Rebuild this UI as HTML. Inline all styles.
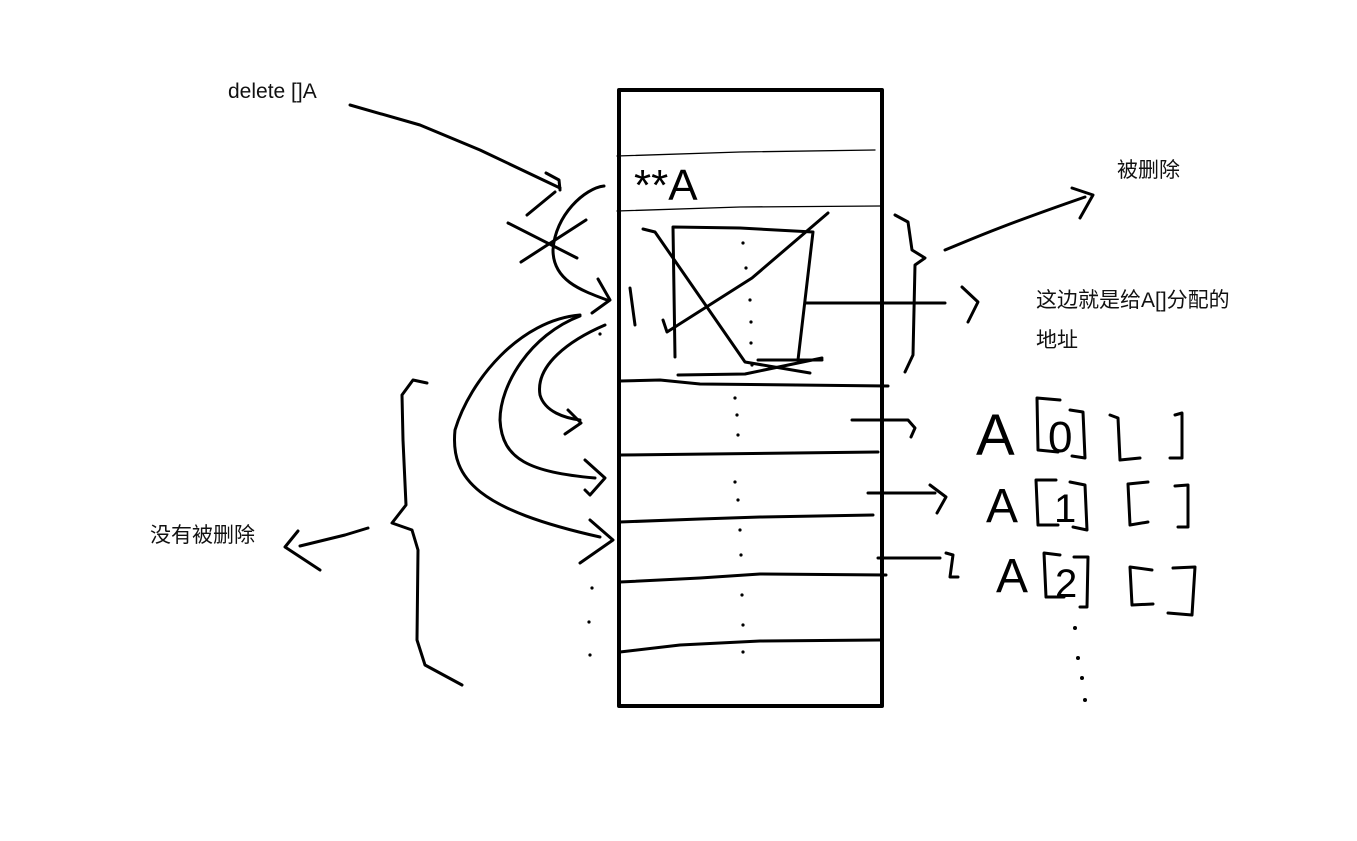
<!DOCTYPE html>
<html><head><meta charset="utf-8"><style>
html,body{margin:0;padding:0;background:#fff;}
svg{display:block;}
.t{font-family:"Liberation Sans","Noto Sans CJK SC",sans-serif;font-size:21px;fill:#111;}
.h{font-family:"Liberation Sans",sans-serif;fill:#000;}
</style></head><body>
<svg width="1357" height="841" viewBox="0 0 1357 841" xmlns="http://www.w3.org/2000/svg">
<g fill="none" stroke="#000" stroke-linecap="round" stroke-linejoin="round">
<path d="M619 90 L882 90 L882 706 L619 706 Z" stroke-width="4"/>
<path d="M617 156 L740 152 L875 150" stroke-width="1.3"/>
<path d="M617 211 L740 207 L880 206" stroke-width="1.3"/>
<path d="M620 381 L660 380 L700 384 L888 386" stroke-width="3"/>
<path d="M620 455 L878 452" stroke-width="3"/>
<path d="M620 522 L700 519 L760 517 L873 515" stroke-width="3"/>
<path d="M620 582 L700 578 L760 574 L886 575" stroke-width="3"/>
<path d="M620 652 L680 645 L760 641 L880 640" stroke-width="3"/>
<path d="M675 357 L673 227 L740 228 L813 232 L798 360" stroke-width="3"/>
<path d="M643 229 L655 232 L745 362 L810 373" stroke-width="3"/>
<path d="M663 320 L667 332 L752 278 L828 213" stroke-width="3"/>
<path d="M678 375 L745 374 L822 358" stroke-width="3"/>
<path d="M758 360 L822 360" stroke-width="3"/>
<path d="M630 288 L635 325" stroke-width="3"/>
<path d="M806 303 L945 303" stroke-width="3"/>
<path d="M962 287 L978 302 L968 322" stroke-width="3"/>
<path d="M895 215 L908 222 L912 250 L925 258 L915 265 L913 355 L905 372" stroke-width="3"/>
<path d="M945 250 C970 240 990 230 1085 197" stroke-width="3"/>
<path d="M1072 188 L1093 195 L1080 218" stroke-width="3"/>
<path d="M350 105 L420 125 L480 150 L560 188" stroke-width="3"/>
<path d="M546 173 L559 180 L560 190" stroke-width="3"/>
<path d="M527 215 L555 192" stroke-width="3"/>
<path d="M604 186 C585 188 555 215 553 250 C553 280 580 290 607 300" stroke-width="3"/>
<path d="M598 279 L610 300 L592 313" stroke-width="3"/>
<path d="M508 223 L577 258" stroke-width="3"/>
<path d="M521 262 L586 220" stroke-width="3"/>
<path d="M605 325 C570 340 535 365 540 395 C545 412 565 418 580 420" stroke-width="3"/>
<path d="M568 410 L581 423 L565 434" stroke-width="3"/>
<path d="M580 316 C530 335 500 385 500 420 C502 460 530 472 595 478" stroke-width="3"/>
<path d="M585 460 L605 478 L590 495 L585 490" stroke-width="3"/>
<path d="M580 315 C520 320 470 380 455 430 C450 480 480 510 600 537" stroke-width="3"/>
<path d="M590 520 L613 540 L580 563" stroke-width="3"/>
<path d="M427 383 L413 380 L402 395 L403 440 L406 505 L392 523 L412 530 L418 550 L417 640 L425 665 L462 685" stroke-width="3"/>
<path d="M368 528 L345 535 L300 546" stroke-width="3"/>
<path d="M298 531 L285 547 L320 570" stroke-width="3"/>
<path d="M852 420 L908 420 L915 428 L911 437" stroke-width="3"/>
<path d="M868 493 L935 493" stroke-width="3"/>
<path d="M930 485 L946 497 L937 513" stroke-width="3"/>
<path d="M878 558 L940 558" stroke-width="3"/>
<path d="M946 553 L953 555 L950 577 L958 577" stroke-width="3"/>
<path d="M1060 400 L1037 398 L1038 450 L1058 452" stroke-width="3"/>
<path d="M1070 410 L1083 412 L1085 458 L1072 456" stroke-width="3"/>
<path d="M1110 415 L1118 418 L1120 460 L1140 458" stroke-width="3"/>
<path d="M1175 415 L1182 413 L1182 458 L1170 458" stroke-width="3"/>
<path d="M1056 480 L1036 480 L1038 525 L1058 525" stroke-width="3"/>
<path d="M1070 482 L1085 485 L1087 530 L1073 527" stroke-width="3"/>
<path d="M1148 482 L1128 484 L1130 525 L1148 522" stroke-width="3"/>
<path d="M1175 486 L1188 485 L1188 527 L1178 527" stroke-width="3"/>
<path d="M1060 555 L1044 553 L1046 597 L1064 597" stroke-width="3"/>
<path d="M1074 557 L1088 557 L1087 607 L1080 607" stroke-width="3"/>
<path d="M1152 570 L1130 567 L1132 605 L1153 604" stroke-width="3"/>
<path d="M1173 568 L1195 567 L1192 615 L1168 613" stroke-width="3"/>
</g>
<g fill="#000">
<circle cx="743" cy="243" r="1.6"/><circle cx="746" cy="268" r="1.6"/><circle cx="750" cy="300" r="1.6"/>
<circle cx="751" cy="322" r="1.6"/><circle cx="751" cy="343" r="1.6"/><circle cx="752" cy="365" r="1.6"/>
<circle cx="735" cy="398" r="1.6"/><circle cx="737" cy="415" r="1.6"/><circle cx="738" cy="435" r="1.6"/>
<circle cx="735" cy="482" r="1.6"/><circle cx="738" cy="500" r="1.6"/><circle cx="740" cy="530" r="1.6"/>
<circle cx="741" cy="555" r="1.6"/><circle cx="742" cy="595" r="1.6"/><circle cx="743" cy="625" r="1.6"/><circle cx="743" cy="652" r="1.6"/>
<circle cx="600" cy="334" r="1.6"/><circle cx="592" cy="588" r="1.6"/><circle cx="589" cy="622" r="1.6"/><circle cx="590" cy="655" r="1.6"/>
<circle cx="1075" cy="628" r="2"/><circle cx="1078" cy="658" r="2"/><circle cx="1082" cy="678" r="2"/><circle cx="1085" cy="700" r="2"/>
</g>
<text class="h" x="634" y="200" font-size="44">**A</text>
<text class="h" x="976" y="455" font-size="58">A</text>
<text class="h" x="1048" y="452" font-size="44">0</text>
<text class="h" x="986" y="522" font-size="48">A</text>
<text class="h" x="1054" y="522" font-size="40">1</text>
<text class="h" x="996" y="592" font-size="48">A</text>
<text class="h" x="1055" y="597" font-size="40">2</text>
<text class="t" x="228" y="98">delete []A</text>
<text class="t" x="1117" y="177">被删除</text>
<text class="t" x="1036" y="307">这边就是给A[]分配的</text>
<text class="t" x="1036" y="347">地址</text>
<text class="t" x="150" y="542">没有被删除</text>
</svg>
</body></html>
